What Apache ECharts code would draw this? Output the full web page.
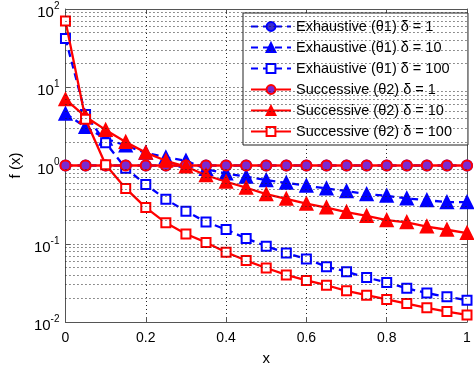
<!DOCTYPE html>
<html>
<head>
<meta charset="utf-8">
<script src="https://cdn.jsdelivr.net/npm/echarts@6/dist/echarts.min.js"></script>
<style>html,body{margin:0;padding:0;background:#fff;}#c{width:474px;height:371px;}</style>
</head>
<body>
<div id="c"></div>
<script>
const xValues = [0,0.05,0.1,0.15,0.2,0.25,0.3,0.35,0.4,0.45,0.5,0.55,0.6,0.65,0.7,0.75,0.8,0.85,0.9,0.95,1];
const exhaustive1 = [1,1,1,1,1,1,1,1,1,1,1,1,1,1,1,1,1,1,1,1,1];
const exhaustive10 = [4.6,3.1,2.2,1.8,1.45,1.27,1.15,0.9,0.79,0.72,0.65,0.6,0.55,0.51,0.47,0.43,0.41,0.38,0.36,0.34,0.34];
const exhaustive100 = [42,4.5,1.95,0.92,0.57,0.37,0.26,0.19,0.152,0.117,0.093,0.076,0.064,0.051,0.044,0.037,0.032,0.027,0.0234,0.021,0.019];
const successive1 = [1,1,1,1,1,1,1,1,1,1,1,1,1,1,1,1,1,1,1,1,1];
const successive10 = [7.0,4.2,2.85,2.0,1.46,1.15,0.97,0.75,0.62,0.52,0.43,0.375,0.325,0.29,0.254,0.227,0.2,0.188,0.166,0.151,0.137];
const successive100 = [70,3.9,1.02,0.51,0.29,0.185,0.133,0.104,0.078,0.061,0.049,0.040,0.034,0.0295,0.025,0.022,0.0194,0.0172,0.0152,0.0136,0.0123];
const seriesNames = ['Exhaustive (\u03b81) \u03b4 = 1','Exhaustive (\u03b81) \u03b4 = 10','Exhaustive (\u03b81) \u03b4 = 100','Successive (\u03b82) \u03b4 = 1','Successive (\u03b82) \u03b4 = 10','Successive (\u03b82) \u03b4 = 100'];
const xTicks = [0,0.2,0.4,0.6,0.8,1];
const yDecades = [0.01,0.1,1,10,100];

const FONT = 'Liberation Sans';
const BLUE = '#0000ff', RED = '#ff0000';
function pairs(ys){ return xValues.map((x,i)=>[x,ys[i]]); }

// minor log gridlines
const minorVals = [];
for (let d = 0; d < yDecades.length-1; d++) {
  for (let k = 2; k <= 9; k++) minorVals.push(+(yDecades[d]*k).toPrecision(3));
}
const dotted = {type:[1,3], color:'#222', width:1};

function mk(name, data, color, symbol, size, dashed, fill, z){
  return {
    name: name, type:'line', data: pairs(data), z: z,
    symbol: symbol, symbolSize: size, showSymbol:true,
    lineStyle:{color:color, width:2.3, type: dashed ? [7,5] : 'solid'},
    itemStyle:{color: fill, borderColor: color, borderWidth: 2},
    emphasis:{disabled:true}, animation:false
  };
}

const series = [
  mk(seriesNames[0], exhaustive1, BLUE, 'circle', 10, true, '#3a2bd0', 2),
  mk(seriesNames[1], exhaustive10, BLUE, 'triangle', 12, true, BLUE, 2),
  mk(seriesNames[2], exhaustive100, BLUE, 'rect', 9, true, '#ffffff', 2),
  mk(seriesNames[3], successive1, RED, 'circle', 10, false, '#7a2bd0', 3),
  mk(seriesNames[4], successive10, RED, 'triangle', 12, false, RED, 3),
  mk(seriesNames[5], successive100, RED, 'rect', 9, false, '#ffffff', 3)
];
series[0].markLine = {
  silent:true, symbol:'none', label:{show:false}, animation:false,
  lineStyle: dotted, emphasis:{disabled:true},
  data: minorVals.map(v=>({yAxis:v}))
};

const chart = echarts.init(document.getElementById('c'), null, {renderer:'canvas'});
chart.setOption({
  animation:false,
  backgroundColor:'#fff',
  grid:{left:53, right:7, top:9, bottom:37, containLabel:false},
  legend:{
    orient:'vertical', left:243, top:13,
    backgroundColor:'#fff', borderColor:'#222', borderWidth:1,
    padding:[6,16,6,7], itemGap:6, itemWidth:40, itemHeight:11,
    textStyle:{fontFamily:FONT, fontSize:14.5, color:'#000'},
    data: seriesNames, selectedMode:false
  },
  xAxis:[{
    type:'value', min:0, max:1, interval:0.2,
    name:'x', nameLocation:'middle', nameGap:29,
    nameTextStyle:{fontFamily:FONT, fontSize:15, color:'#000'},
    axisLine:{show:true, onZero:false, lineStyle:{color:'#555', width:1}},
    axisTick:{show:true, inside:true, length:5, lineStyle:{color:'#555'}},
    axisLabel:{fontFamily:FONT, fontSize:14, color:'#000', margin:9,
      formatter:v=>String(+v.toFixed(1))},
    splitLine:{show:true, lineStyle:dotted}
  },{
    type:'value', min:0, max:1, interval:0.2, position:'top',
    axisLine:{show:true, onZero:false, lineStyle:{color:'#555', width:1}},
    axisTick:{show:true, inside:true, length:5, lineStyle:{color:'#555'}},
    axisLabel:{show:false}, splitLine:{show:false}
  }],
  yAxis:[{
    type:'log', logBase:10, min:0.01, max:100,
    name:'f (x)', nameLocation:'middle', nameGap:40, nameRotate:90,
    nameTextStyle:{fontFamily:FONT, fontSize:15, color:'#000'},
    axisLine:{show:true, onZero:false, lineStyle:{color:'#555', width:1}},
    axisTick:{show:true, inside:true, length:5, lineStyle:{color:'#555'}},
    axisLabel:{fontFamily:FONT, fontSize:15, color:'#000', margin:6,
      formatter:v=>'{b|10}{s|' + Math.round(Math.log10(v)) + '}',
      rich:{b:{fontFamily:FONT, fontSize:15, color:'#000', padding:[8,0,0,0]},
            s:{fontFamily:FONT, fontSize:10, color:'#000', padding:[0,0,6,0]}}},
    splitLine:{show:true, lineStyle:dotted}
  },{
    type:'log', logBase:10, min:0.01, max:100, position:'right',
    axisLine:{show:true, onZero:false, lineStyle:{color:'#555', width:1}},
    axisTick:{show:true, inside:true, length:5, lineStyle:{color:'#555'}},
    axisLabel:{show:false}, splitLine:{show:false}
  }],
  series: series
});
</script>
</body>
</html>
